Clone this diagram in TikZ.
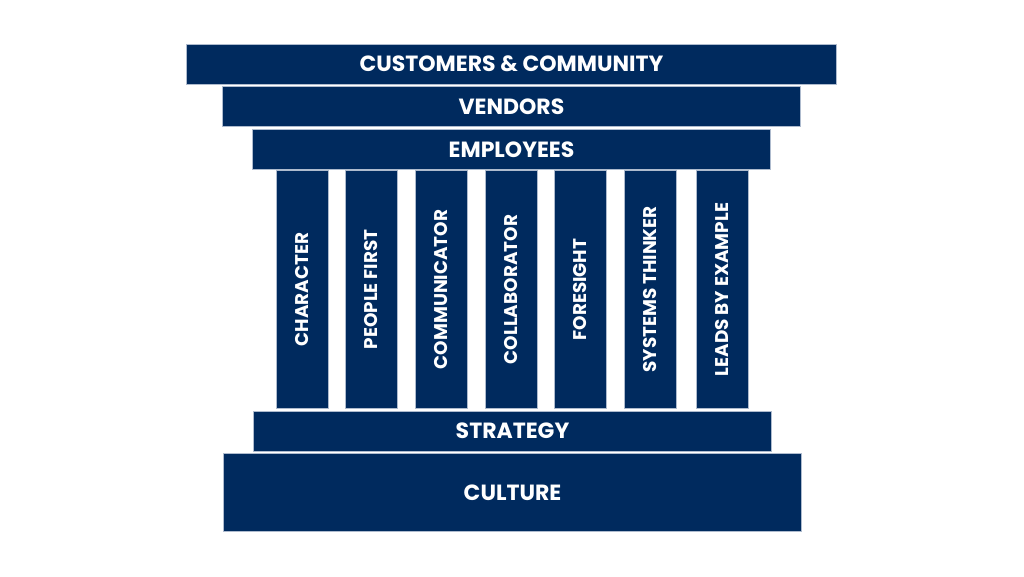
\documentclass[tikz,border=0pt]{standalone}
\usepackage{fontspec}
\setmainfont{Poppins}
\usetikzlibrary{positioning}
\definecolor{navy}{HTML}{002A5E}
\definecolor{rim}{HTML}{AEBBCE}

\begin{document}
\begin{tikzpicture}[
    x=0.75pt, y=-0.75pt,
    node distance=1.5pt,
    slab/.style={rectangle, draw=rim, line width=0.6pt, fill=navy, text=white, inner sep=0pt, align=center, minimum height=30pt, font=\bfseries\fontsize{16.5}{19}\selectfont},
    pillar/.style={slab, rotate=90, minimum width=179pt, minimum height=39pt, font=\bfseries\fontsize{13.8}{16}\selectfont}
]
\useasboundingbox (0,0) rectangle (1024,576);

\node[slab, minimum width=488pt] (cust) at (511.5,64) {CUSTOMERS \& COMMUNITY};
\node[slab, minimum width=433.5pt, below=of cust] (vend) {VENDORS};
\node[slab, minimum width=389pt, below=of vend] (empl) {EMPLOYEES};

\foreach \x/\name/\txt in {302/p1/CHARACTER, 371/p2/PEOPLE FIRST, 441/p3/COMMUNICATOR, 511/p4/COLLABORATOR, 580/p5/FORESIGHT, 650/p6/SYSTEMS THINKER, 722/p7/LEADS BY EXAMPLE}
    \node[pillar] (\name) at (\x,289.5) {\txt};

\node[slab, minimum width=389pt] (strat) at (512.5,431) {STRATEGY};
\node[slab, minimum width=433.5pt, minimum height=58.5pt, below=of strat] (cult) {CULTURE};
\end{tikzpicture}
\end{document}
